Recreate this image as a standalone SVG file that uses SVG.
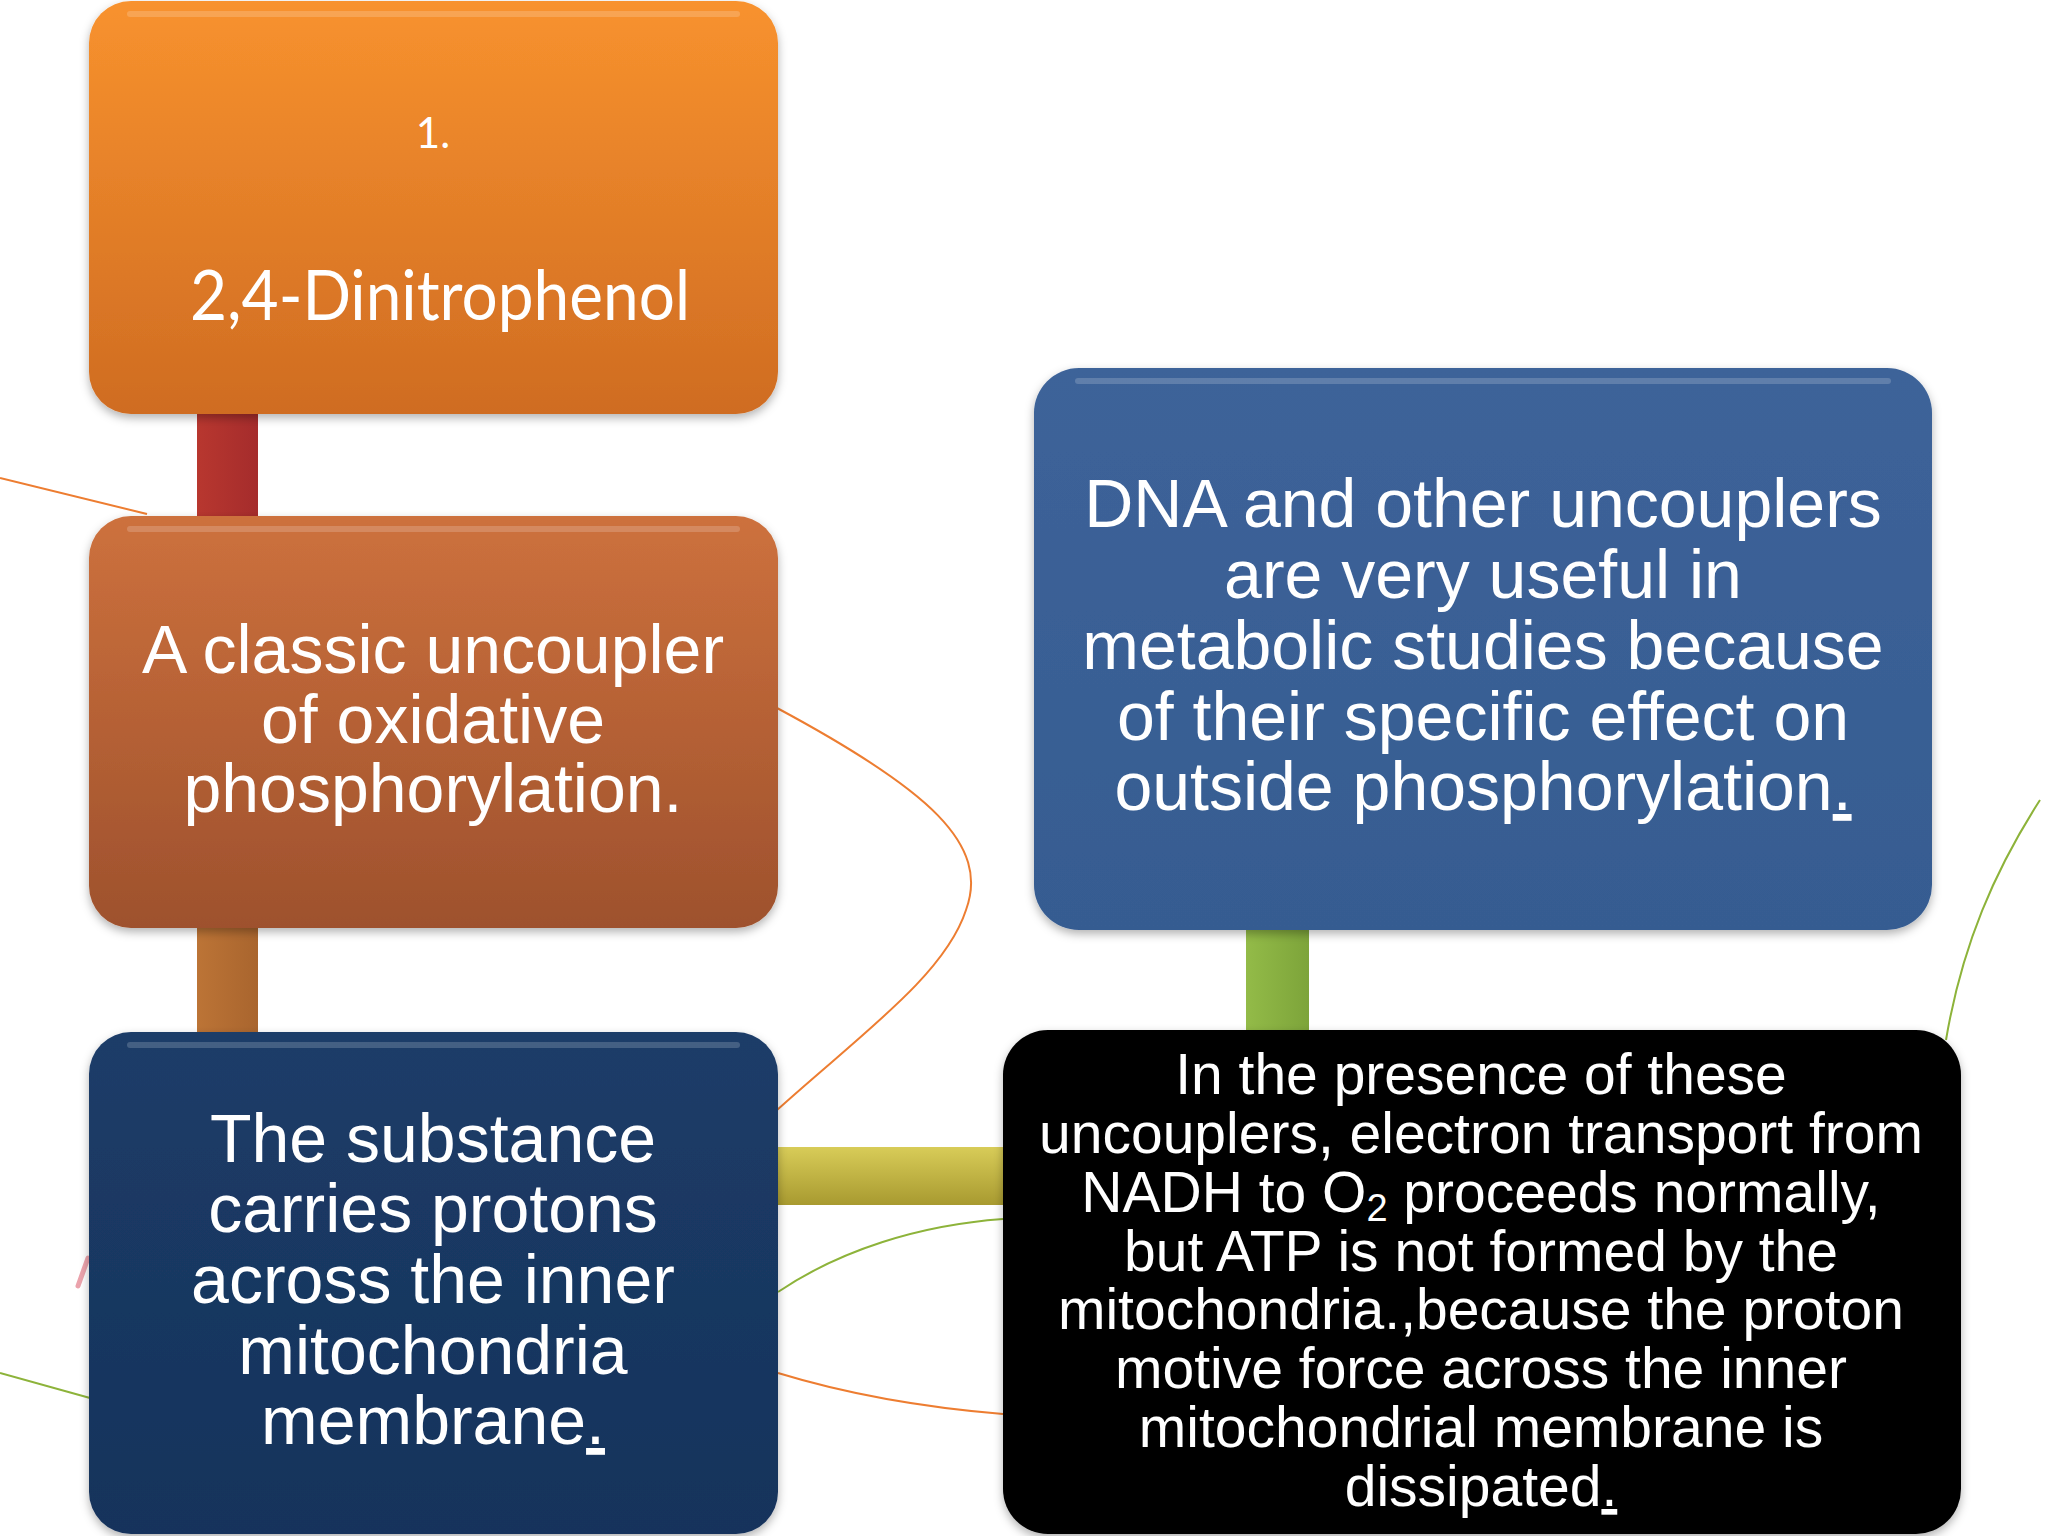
<svg xmlns="http://www.w3.org/2000/svg" width="2048" height="1536" viewBox="0 0 2048 1536">
<defs>
<linearGradient id="gOrange" x1="0" y1="0" x2="0" y2="1"><stop offset="0" stop-color="#F8922E"/><stop offset="1" stop-color="#CF6C22"/></linearGradient>
<linearGradient id="gBrown" x1="0" y1="0" x2="0" y2="1"><stop offset="0" stop-color="#CD713D"/><stop offset="1" stop-color="#9E512D"/></linearGradient>
<linearGradient id="gNavy" x1="0" y1="0" x2="0" y2="1"><stop offset="0" stop-color="#1C3C68"/><stop offset="1" stop-color="#16335B"/></linearGradient>
<linearGradient id="gBlue" x1="0" y1="0" x2="0" y2="1"><stop offset="0" stop-color="#3D6399"/><stop offset="1" stop-color="#365C91"/></linearGradient>
<linearGradient id="gBlack" x1="0" y1="0" x2="0" y2="1"><stop offset="0" stop-color="#050505"/><stop offset="1" stop-color="#000000"/></linearGradient>
<linearGradient id="gRed" x1="0" y1="0" x2="1" y2="0"><stop offset="0" stop-color="#B8372F"/><stop offset="1" stop-color="#A52C2C"/></linearGradient>
<linearGradient id="gBrownBar" x1="0" y1="0" x2="1" y2="0"><stop offset="0" stop-color="#BC7436"/><stop offset="1" stop-color="#A9652E"/></linearGradient>
<linearGradient id="gYellow" x1="0" y1="0" x2="0" y2="1"><stop offset="0" stop-color="#D8CC58"/><stop offset="1" stop-color="#A89A30"/></linearGradient>
<linearGradient id="gGreen" x1="0" y1="0" x2="1" y2="0"><stop offset="0" stop-color="#93BB48"/><stop offset="1" stop-color="#7DA43A"/></linearGradient>
<filter id="shadow" x="-10%" y="-10%" width="120%" height="120%"><feDropShadow dx="0" dy="4" stdDeviation="5" flood-color="#000" flood-opacity="0.3"/></filter>
</defs>
<style>
.box { filter: url(#shadow); }
.hl { fill: none; stroke: #FFFFFF; stroke-opacity: 0.18; stroke-width: 6; stroke-linecap: round; }
.txt { font-family: "Liberation Sans", Arial, sans-serif; fill: #FFFFFF; text-anchor: middle; }
.big { font-size: 68px; }
.small { font-size: 57px; }
.deco { fill: none; stroke-width: 2; }
.or { stroke: #ED7D31; }
.gr { stroke: #8DB33A; }
</style>
<rect width="2048" height="1536" fill="#FFFFFF"/>
<g id="decorations">
<path class="deco or" d="M0,478 L147,514"/>
<path class="deco or" d="M777,708 C930,790 990,845 966,910 C945,975 860,1035 777,1110"/>
<path class="deco gr" d="M778,1292 C840,1250 920,1225 1003,1219"/>
<path class="deco or" d="M778,1373 C850,1395 930,1408 1003,1414"/>
<path class="deco gr" d="M0,1373 L90,1398"/>
<path class="deco gr" d="M2040,800 C1995,870 1962,945 1946,1040"/>
<path d="M88,1258 L78,1286" stroke="#EBA3AC" stroke-width="5" fill="none" stroke-linecap="round"/>
</g>
<g id="connectors">
<rect x="197" y="410" width="61" height="110" fill="url(#gRed)"/>
<rect x="197" y="924" width="61" height="112" fill="url(#gBrownBar)"/>
<rect x="774" y="1147" width="233" height="58" fill="url(#gYellow)"/>
<rect x="1246" y="926" width="63" height="108" fill="url(#gGreen)"/>
</g>
<g id="node1">
<rect class="box" x="89" y="1" width="689" height="413" rx="42" fill="url(#gOrange)"/>
<path class="hl" d="M130,14 L737,14"/>
<text class="txt" x="433" y="148" font-size="42px" style="font-family: Lato, 'Open Sans', sans-serif">1.</text>
<text class="txt" x="440" y="320" font-size="70px" textLength="500" lengthAdjust="spacingAndGlyphs" style="font-family: Lato, 'Open Sans', sans-serif">2,4-Dinitrophenol</text>
</g>
<g id="node2">
<rect class="box" x="89" y="516" width="689" height="412" rx="42" fill="url(#gBrown)"/>
<path class="hl" d="M130,529 L737,529"/>
<text class="txt big"><tspan x="433" y="673">A classic uncoupler</tspan><tspan x="433" y="743">of oxidative</tspan><tspan x="433" y="812">phosphorylation.</tspan></text>
</g>
<g id="node3">
<rect class="box" x="89" y="1032" width="689" height="502" rx="42" fill="url(#gNavy)"/>
<path class="hl" d="M130,1045 L737,1045"/>
<text class="txt big"><tspan x="433" y="1162">The substance</tspan><tspan x="433" y="1232">carries protons</tspan><tspan x="433" y="1303">across the inner</tspan><tspan x="433" y="1374">mitochondria</tspan><tspan x="433" y="1444">membrane<tspan text-decoration="underline">.</tspan></tspan></text>
</g>
<g id="node4">
<rect class="box" x="1034" y="368" width="898" height="562" rx="45" fill="url(#gBlue)"/>
<path class="hl" d="M1078,381 L1888,381"/>
<text class="txt big"><tspan x="1483" y="527">DNA and other uncouplers</tspan><tspan x="1483" y="598">are very useful in</tspan><tspan x="1483" y="669">metabolic studies because</tspan><tspan x="1483" y="740">of their specific effect on</tspan><tspan x="1483" y="810">outside phosphorylation<tspan text-decoration="underline">.</tspan></tspan></text>
</g>
<g id="node5">
<rect class="box" x="1003" y="1030" width="958" height="504" rx="45" fill="url(#gBlack)"/>
<text class="txt small"><tspan x="1481" y="1094">In the presence of these</tspan><tspan x="1481" y="1153">uncouplers, electron transport from</tspan><tspan x="1481" y="1212">NADH to O<tspan font-size="38px" dy="9">2</tspan><tspan dy="-9"> proceeds normally,</tspan></tspan><tspan x="1481" y="1271">but ATP is not formed by the</tspan><tspan x="1481" y="1329">mitochondria.,because the proton</tspan><tspan x="1481" y="1388">motive force across the inner</tspan><tspan x="1481" y="1447">mitochondrial membrane is</tspan><tspan x="1481" y="1506">dissipated<tspan text-decoration="underline">.</tspan></tspan></text>
</g>
</svg>
